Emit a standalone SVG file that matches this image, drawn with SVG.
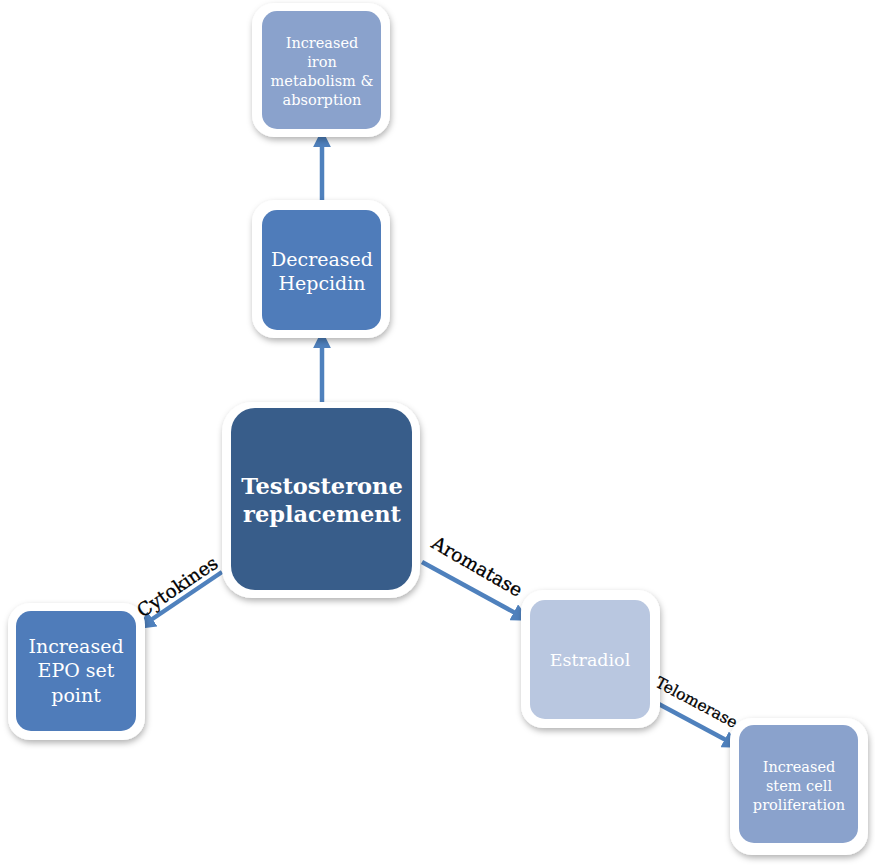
<svg xmlns="http://www.w3.org/2000/svg" width="875" height="865" viewBox="0 0 875 865">
<defs>
<filter id="sh" x="-20%" y="-20%" width="140%" height="140%">
<feDropShadow dx="1" dy="3" stdDeviation="3" flood-color="#000" flood-opacity="0.3"/>
</filter>
<marker id="ah" viewBox="0 0 10 10" refX="9" refY="5" markerWidth="4" markerHeight="4" orient="auto" markerUnits="strokeWidth">
<path d="M0,0 L10,5 L0,10 z" fill="#4f81bd"/>
</marker>
<style>
.frame{fill:#fff;filter:url(#sh)}
.t{font-family:"DejaVu Serif","Liberation Serif",serif;fill:#fff;text-anchor:middle}
.lbl{font-family:"DejaVu Serif","Liberation Serif",serif;fill:#000;text-anchor:middle;stroke:#000;stroke-width:0.3}
.con{stroke:#4f81bd;stroke-width:4.5;fill:none;marker-end:url(#ah)}
</style>
</defs>
<rect width="875" height="865" fill="#fff"/>
<g id="connectors">
<line class="con" x1="322" y1="408" x2="322" y2="332"/>
<line class="con" x1="322" y1="210" x2="322" y2="131"/>
<line class="con" x1="222" y1="572" x2="139" y2="628"/>
<line class="con" x1="422" y1="562" x2="528" y2="620"/>
<line class="con" x1="655" y1="702" x2="739" y2="747"/>
</g>
<g id="iron">
<rect class="frame" x="252" y="3" width="138" height="134" rx="22"/>
<rect x="262" y="11" width="119" height="118" rx="15" fill="#8aa2cc"/>
<text class="t" font-size="14.5"><tspan x="322" y="48">Increased</tspan><tspan x="322" y="67">iron</tspan><tspan x="322" y="86">metabolism &amp;</tspan><tspan x="322" y="105">absorption</tspan></text>
</g>
<g id="hepcidin">
<rect class="frame" x="252" y="200" width="138" height="138" rx="22"/>
<rect x="262" y="210" width="119" height="120" rx="15" fill="#4f7cba"/>
<text class="t" font-size="19"><tspan x="322" y="266">Decreased</tspan><tspan x="322" y="290">Hepcidin</tspan></text>
</g>
<g id="testosterone">
<rect class="frame" x="222" y="402" width="198" height="196" rx="30"/>
<rect x="231" y="408" width="181" height="182" rx="24" fill="#385d8a"/>
<text class="t" font-size="22.5" font-weight="bold"><tspan x="322" y="494">Testosterone</tspan><tspan x="322" y="522">replacement</tspan></text>
</g>
<g id="epo">
<rect class="frame" x="8" y="603" width="137" height="137" rx="22"/>
<rect x="16" y="611" width="120" height="120" rx="15" fill="#4f7cba"/>
<text class="t" font-size="19"><tspan x="76" y="653">Increased</tspan><tspan x="76" y="677">EPO set</tspan><tspan x="76" y="702">point</tspan></text>
</g>
<g id="estradiol">
<rect class="frame" x="521" y="590" width="139" height="138" rx="22"/>
<rect x="530" y="600" width="120" height="119" rx="15" fill="#b9c7e0"/>
<text class="t" font-size="17.5"><tspan x="590" y="666">Estradiol</tspan></text>
</g>
<g id="stemcell">
<rect class="frame" x="730" y="718" width="138" height="137" rx="22"/>
<rect x="739" y="725" width="119" height="118" rx="15" fill="#8aa2cc"/>
<text class="t" font-size="14.5"><tspan x="799" y="772">Increased</tspan><tspan x="799" y="791">stem cell</tspan><tspan x="799" y="810">proliferation</tspan></text>
</g>
<g id="labels">
<text class="lbl" font-size="18.5" transform="translate(181,592) rotate(-34)">Cytokines</text>
<text class="lbl" font-size="18.5" transform="translate(474,572) rotate(30)">Aromatase</text>
<text class="lbl" font-size="15.5" transform="translate(694,707) rotate(28)">Telomerase</text>
</g>
</svg>
